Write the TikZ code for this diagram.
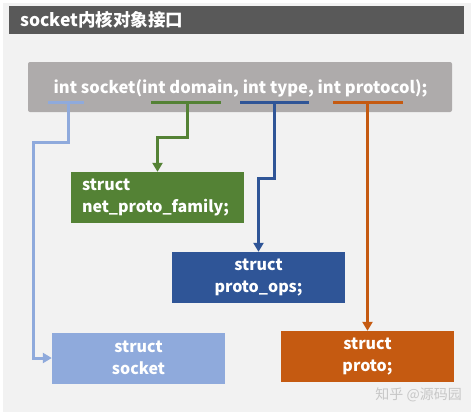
\documentclass[tikz,border=0pt]{standalone}
\usepackage{fontspec}
\setmainfont{Noto Sans CJK SC}
\usetikzlibrary{arrows.meta}
\definecolor{bgc}{HTML}{F2F2F2}
\definecolor{titlec}{HTML}{595959}
\definecolor{funcc}{HTML}{AEABAB}
\definecolor{greenc}{HTML}{548235}
\definecolor{bluec}{HTML}{2F5597}
\definecolor{lbluec}{HTML}{8FAADC}
\definecolor{orangec}{HTML}{C55A11}
\tikzset{
  txt/.style={text=white, font=\bfseries\fontsize{16}{22}\selectfont},
  sbox/.style={txt, minimum width=173pt, minimum height=51pt, inner sep=0pt, align=center},
  arr/.style={line width=3pt, -{Triangle[length=9pt,width=10pt]}},
  uline/.style={line width=3pt},
}
\begin{document}
\begin{tikzpicture}[x=1pt,y=-1pt]
\fill[white] (0,0) rectangle (474,415);
\fill[bgc] (3,3) rectangle (471,412);
\fill[titlec] (9,6) rectangle (464,34);
\node[anchor=west, text=white, font=\bfseries\fontsize{17.5}{20}\selectfont, inner sep=0pt] (title) at (20,20) {socket内核对象接口};
\node[fill=funcc, rounded corners=2pt, minimum width=424pt, minimum height=50pt, inner sep=0pt] (func) at (240,87) {};
\node[txt, font=\bfseries\fontsize{16.5}{22}\selectfont, anchor=base, inner sep=0pt] (functext) at (240.5,93) {int socket(int domain, int type, int protocol);};
% parameter underlines
\coordinate (u1a) at (48,102); \coordinate (u1b) at (84,102);
\coordinate (u2a) at (151,102); \coordinate (u2b) at (221,102);
\coordinate (u3a) at (240,102); \coordinate (u3b) at (309,102);
\coordinate (u4a) at (333,102); \coordinate (u4b) at (403,102);
\draw[uline, lbluec] (u1a) -- (u1b);
\draw[uline, greenc] (u2a) -- (u2b);
\draw[uline, bluec] (u3a) -- (u3b);
\draw[uline, orangec] (u4a) -- (u4b);
% boxes
\node[sbox, fill=greenc, align=left, text width=151pt, inner xsep=11pt] (fam) at (157.5,197.5) {struct\\net\_proto\_family;};
\node[sbox, fill=bluec] (ops) at (258.5,277.5) {struct\\proto\_ops;};
\node[sbox, fill=lbluec] (sock) at (138.5,358) {struct\\socket};
\node[sbox, fill=orangec] (proto) at (367.5,356.5) {struct\\proto;};
% connectors
\coordinate (s1) at (68,102);
\coordinate (s2) at (187,102);
\coordinate (s3) at (274,102);
\coordinate (s4) at (367.5,102);
\draw[arr, lbluec] (s1) -- (68,142) -- (33,142) -- (33,358) -- (sock.west);
\draw[arr, greenc] (s2) -- (187,137) -- (157.5,137) -- (fam.north);
\draw[arr, bluec] (s3) -- (274,178) -- (258.5,178) -- (ops.north);
\draw[arr, orangec] (s4) -- (proto.north);
% watermark
\node[text=black!22, font=\fontsize{14}{16}\selectfont, anchor=east, inner sep=0pt] (wm) at (462,395) {知乎 @源码园};
\end{tikzpicture}
\end{document}
